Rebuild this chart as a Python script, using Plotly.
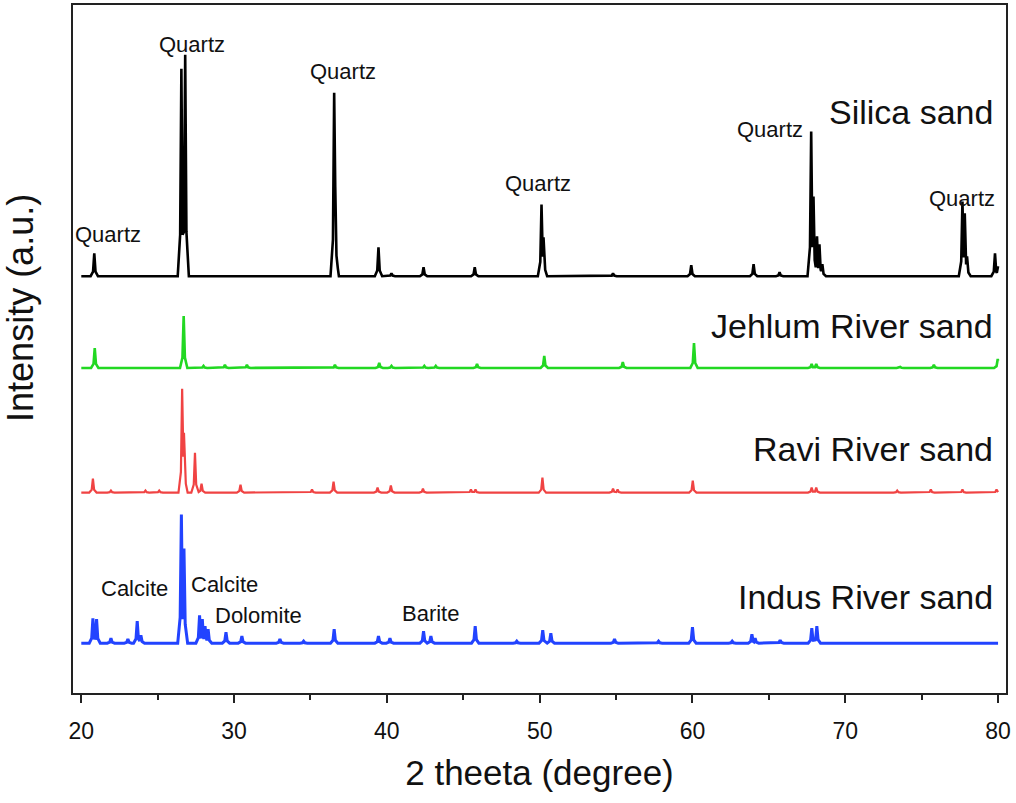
import plotly.graph_objects as go

# ---------------- data (2-theta in degrees, intensity in a.u.) ----------------
two_theta_start = 20.0
two_theta_end = 80.0

silica_pos = [20.85, 26.55, 26.8, 36.55, 36.62, 39.45, 40.3, 42.4, 45.75, 50.12, 50.25, 54.8,
              59.92, 64.0, 65.7, 67.77, 67.92, 68.15, 68.31, 68.5, 77.67, 77.82, 77.97, 79.8, 80.0]
silica_int = [23, 208, 222, 184, 90, 29, 3, 9, 9, 72, 39, 3,
              11, 12, 4, 145, 80, 40, 32, 12, 75, 63, 20, 23, 10]

jehlum_pos = [20.88, 26.7, 28.0, 29.4, 30.84, 36.6, 39.5, 40.3, 42.45, 43.2, 45.9, 50.3,
              55.44, 60.1, 67.8, 68.1, 73.6, 75.8, 79.98]
jehlum_int = [20, 52, 2, 3, 3, 3, 5, 2, 2, 2, 4, 12,
              6, 25, 4, 4, 1, 3, 9]

ravi_pos = [20.76, 21.94, 24.2, 25.1, 26.6, 26.72, 27.44, 27.87, 30.42, 35.1, 36.51, 39.39, 40.26,
            42.36, 45.5, 45.8, 50.18, 54.8, 55.1, 60.02, 67.8, 68.1, 73.4, 75.6, 77.67, 79.9]
ravi_int = [14, 2, 2, 2, 104, 60, 40, 9, 8, 3, 11, 5, 7,
            4, 3, 3, 15, 4, 3, 12, 5, 5, 2, 3, 3, 3]

indus_pos = [20.76, 21.0, 21.94, 23.05, 23.66, 23.9, 26.55, 26.72, 27.74, 27.92, 28.1, 28.3,
             29.47, 30.51, 33.0, 34.55, 36.55, 39.45, 40.2, 42.4, 42.88, 45.78, 48.5, 50.2,
             50.73, 54.9, 57.78, 60.0, 62.6, 63.89, 64.1, 65.74, 67.81, 68.14]
indus_int = [25, 24, 5, 4, 22, 8, 129, 95, 28, 24, 17, 14,
             11, 7, 4, 2, 14, 7, 5, 12, 7, 17, 2, 13,
             10, 4, 2, 16, 2, 9, 5, 3, 15, 17]

series_names = ["Silica sand", "Jehlum River sand", "Ravi River sand", "Indus River sand"]

quartz_label_x = [21.77, 27.24, 37.12, 49.92, 65.08, 77.63]
other_labels = ["Calcite", "Calcite", "Dolomite", "Barite"]
x_tick_values = [20, 30, 40, 50, 60, 70, 80]

# ---------------- layout / style (not data) ----------------
offsets = [418, 326, 201, 50]
colors = ["#000000", "#22d822", "#f04343", "#2243ff"]
widths = [2.6, 2.6, 2.2, 3.0]
TIP = 0.08
FOOT = 0.24


def profile(pos, inten, base):
    xs = {two_theta_start, two_theta_end}
    for p in pos:
        xs.update([p - FOOT, p - TIP, p, p + TIP, p + FOOT])
    xs = sorted(x for x in xs if two_theta_start <= x <= two_theta_end)
    ys = []
    for x in xs:
        v = 0.0
        for p, h in zip(pos, inten):
            d = abs(x - p)
            if d <= TIP:
                t = h * (1 - 0.8 * d / TIP)
            elif d <= FOOT:
                t = h * 0.2 * (FOOT - d) / (FOOT - TIP)
            else:
                t = 0.0
            v = max(v, t)
        ys.append(base + v)
    return xs, ys


fig = go.Figure()
all_series = [(silica_pos, silica_int), (jehlum_pos, jehlum_int), (ravi_pos, ravi_int), (indus_pos, indus_int)]
for (pos, inten), name, off, col, w in zip(all_series, series_names, offsets, colors, widths):
    xs, ys = profile(pos, inten, off)
    fig.add_trace(go.Scatter(x=xs, y=ys, mode="lines", name=name,
                             line=dict(color=col, width=w), showlegend=False))

FONT = "Arial, Liberation Sans, sans-serif"

# Quartz labels
quartz_label_y = [460, 650, 623, 511, 565, 496]
for x, y in zip(quartz_label_x, quartz_label_y):
    fig.add_annotation(x=x, y=y, text="Quartz", showarrow=False,
                       font=dict(family=FONT, size=22, color="#111"), xanchor="center", yanchor="middle")

# mineral labels for Indus sand
other_x = [23.5, 29.4, 31.63, 42.84]
other_y = [104.7, 109, 78, 79.7]
for t, x, y in zip(other_labels, other_x, other_y):
    fig.add_annotation(x=x, y=y, text=t, showarrow=False,
                       font=dict(family=FONT, size=22, color="#111"), xanchor="center", yanchor="middle")

# sample names
name_y = [583, 368, 245, 96]
for t, y in zip(series_names, name_y):
    fig.add_annotation(x=79.8, y=y, text=t, showarrow=False,
                       font=dict(family=FONT, size=34, color="#111"), xanchor="right", yanchor="middle")

# y-axis title
fig.add_annotation(xref="paper", yref="paper", x=-0.0555, y=0.56, text="Intensity (a.u.)",
                   textangle=-90, showarrow=False, font=dict(family=FONT, size=36, color="#111"),
                   xanchor="center", yanchor="middle")

fig.update_layout(
    width=1016, height=803,
    margin=dict(l=73, r=10, t=3, b=110),
    paper_bgcolor="white", plot_bgcolor="white",
    font=dict(family=FONT, color="#111"),
    xaxis=dict(range=[19.457, 80.52], showline=True, linecolor="#222", linewidth=2, mirror=True,
               ticks="outside", ticklen=8, tickwidth=2, tickcolor="#222",
               tickvals=x_tick_values, tickfont=dict(family=FONT, size=23, color="#111"),
               ticklabelstandoff=8,
               minor=dict(ticks="outside", ticklen=5, tickwidth=2, tickcolor="#222", dtick=5, tick0=20, showgrid=False),
               showgrid=False, zeroline=False,
               title=dict(text="2 theeta (degree)", font=dict(family=FONT, size=35, color="#111"), standoff=18)),
    yaxis=dict(range=[0, 690], showline=True, linecolor="#222", linewidth=2, mirror=True,
               showticklabels=False, ticks="", showgrid=False, zeroline=False),
)

fig.write_html("out.html")
